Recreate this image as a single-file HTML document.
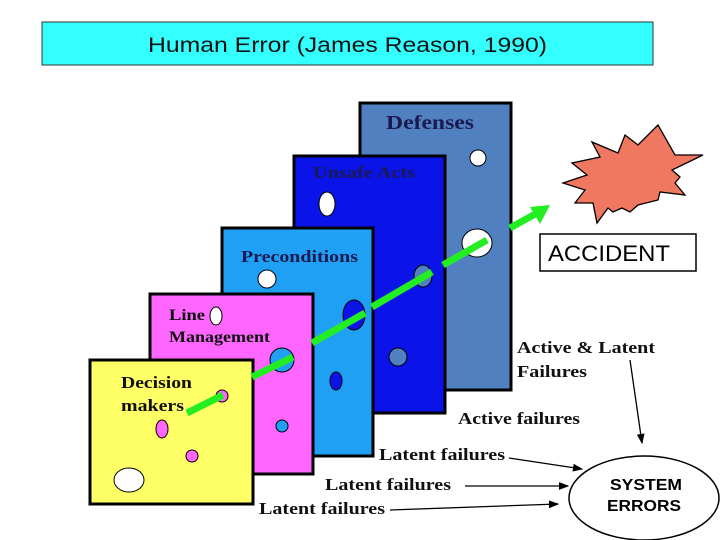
<!DOCTYPE html>
<html><head><meta charset="utf-8"><style>
body{margin:0;background:#fff;}
svg{display:block}
.s{font-family:"Liberation Serif",serif;font-weight:bold;fill:#111;}
.n{fill:#1a1a50;}
</style></head><body>
<svg width="720" height="540" viewBox="0 0 720 540" xmlns="http://www.w3.org/2000/svg">
<defs><marker id="a" markerWidth="8" markerHeight="8" refX="7" refY="4" orient="auto"><path d="M0,1 L8,4 L0,7 z" fill="#000"/></marker></defs>
<rect x="42" y="22" width="611" height="43" fill="#33ffff" stroke="#333" stroke-width="1"/>
<text x="148" y="52" textLength="399" lengthAdjust="spacingAndGlyphs" font-family="Liberation Sans,sans-serif" font-size="21" fill="#111">Human Error (James Reason, 1990)</text>

<g lengthAdjust="spacingAndGlyphs">
<rect x="360" y="103" width="151" height="287" fill="#5080c0" stroke="#000" stroke-width="3"/>
<text x="386" y="129" class="s n" font-size="20" font-weight="normal" textLength="88" lengthAdjust="spacingAndGlyphs">Defenses</text>
<circle cx="478" cy="158" r="8" fill="#fff" stroke="#000"/>
<ellipse cx="477" cy="243" rx="15" ry="14" fill="#fff" stroke="#000"/>

<rect x="294" y="156" width="151" height="257" fill="#0a14e8" stroke="#000" stroke-width="3"/>
<text x="313" y="178" class="s n" font-size="17" textLength="102" lengthAdjust="spacingAndGlyphs">Unsafe Acts</text>
<ellipse cx="327" cy="204" rx="8" ry="12" fill="#fff" stroke="#000"/>
<ellipse cx="423" cy="276" rx="9" ry="11" fill="#5080c0" stroke="#000"/>
<circle cx="398" cy="357" r="9" fill="#5080c0" stroke="#000"/>

<rect x="222" y="228" width="151" height="228" fill="#1fa0f5" stroke="#000" stroke-width="3"/>
<text x="241" y="262" class="s n" font-size="17" textLength="117" lengthAdjust="spacingAndGlyphs">Preconditions</text>
<circle cx="267" cy="279" r="9" fill="#fff" stroke="#000"/>
<ellipse cx="354" cy="315" rx="11" ry="15" fill="#0a14e8" stroke="#000"/>
<ellipse cx="336" cy="381" rx="6" ry="9" fill="#0a14e8" stroke="#000"/>

<rect x="150" y="294" width="163" height="180" fill="#ff66ff" stroke="#000" stroke-width="3"/>
<text x="169" y="320" class="s" font-size="16" fill="#301040" textLength="36" lengthAdjust="spacingAndGlyphs">Line</text>
<text x="169" y="342" class="s" font-size="16" fill="#301040" textLength="101" lengthAdjust="spacingAndGlyphs">Management</text>
<ellipse cx="216" cy="316" rx="6" ry="9" fill="#fff" stroke="#000"/>
<ellipse cx="282" cy="360" rx="12" ry="12" fill="#1fa0f5" stroke="#000"/>
<circle cx="282" cy="426" r="6" fill="#1fa0f5" stroke="#000"/>

<rect x="90" y="360" width="163" height="144" fill="#ffff66" stroke="#000" stroke-width="3"/>
<text x="121" y="388" class="s" font-size="17" textLength="71" lengthAdjust="spacingAndGlyphs">Decision</text>
<text x="121" y="411" class="s" font-size="17" textLength="63" lengthAdjust="spacingAndGlyphs">makers</text>
<circle cx="222" cy="396" r="6" fill="#ff66ff" stroke="#000"/>
<ellipse cx="162" cy="429" rx="6" ry="9" fill="#ff66ff" stroke="#000"/>
<circle cx="192" cy="456" r="6" fill="#ff66ff" stroke="#000"/>
<ellipse cx="129" cy="480" rx="15" ry="12" fill="#fff" stroke="#000"/>
</g>

<g stroke="#22ee22" stroke-width="7" stroke-linecap="butt">
<line x1="187" y1="413" x2="223" y2="395"/>
<line x1="252" y1="377" x2="293" y2="357"/>
<line x1="312" y1="343" x2="365" y2="313"/>
<line x1="372" y1="307" x2="432" y2="272"/>
<line x1="443" y1="265" x2="487" y2="240"/>
<line x1="510" y1="228" x2="537" y2="213"/>
</g>
<polygon points="550,205 530,207 540,224" fill="#22ee22"/>

<polygon points="592,142 600,157 572,163 587,175 563,183 585,190 575,203 593,203 597,223 608,208 613,212 622,208 630,212 638,205 658,200 660,192 685,195 675,183 680,177 672,170 703,155 675,155 658,125 638,145 625,135 618,153" fill="#f07860" stroke="#000" stroke-width="1.3"/>

<rect x="540" y="234" width="156" height="37" fill="#fff" stroke="#000" stroke-width="1.5"/>
<text x="548" y="261" font-family="Liberation Sans,sans-serif" font-size="22" fill="#000" textLength="122" lengthAdjust="spacingAndGlyphs">ACCIDENT</text>

<text x="517" y="353" class="s" font-size="17" textLength="138" lengthAdjust="spacingAndGlyphs">Active &amp; Latent</text>
<text x="517" y="377" class="s" font-size="17" textLength="70" lengthAdjust="spacingAndGlyphs">Failures</text>
<text x="458" y="424" class="s" font-size="17" textLength="122" lengthAdjust="spacingAndGlyphs">Active failures</text>
<text x="379" y="460" class="s" font-size="17" textLength="126" lengthAdjust="spacingAndGlyphs">Latent failures</text>
<text x="325" y="490" class="s" font-size="17" textLength="126" lengthAdjust="spacingAndGlyphs">Latent failures</text>
<text x="259" y="514" class="s" font-size="17" textLength="126" lengthAdjust="spacingAndGlyphs">Latent failures</text>

<g stroke="#000" stroke-width="1.3" marker-end="url(#a)">
<line x1="630" y1="360" x2="642" y2="443"/>
<line x1="509" y1="458" x2="582" y2="469"/>
<line x1="465" y1="486" x2="568" y2="486"/>
<line x1="390" y1="510" x2="558" y2="504"/>
</g>
<ellipse cx="644" cy="498" rx="75" ry="42" fill="#fff" stroke="#000" stroke-width="1.5"/>
<text x="610" y="490" font-family="Liberation Sans,sans-serif" font-weight="bold" font-size="16" textLength="72" lengthAdjust="spacingAndGlyphs">SYSTEM</text>
<text x="607" y="511" font-family="Liberation Sans,sans-serif" font-weight="bold" font-size="16" textLength="74" lengthAdjust="spacingAndGlyphs">ERRORS</text>
</svg>
</body></html>
